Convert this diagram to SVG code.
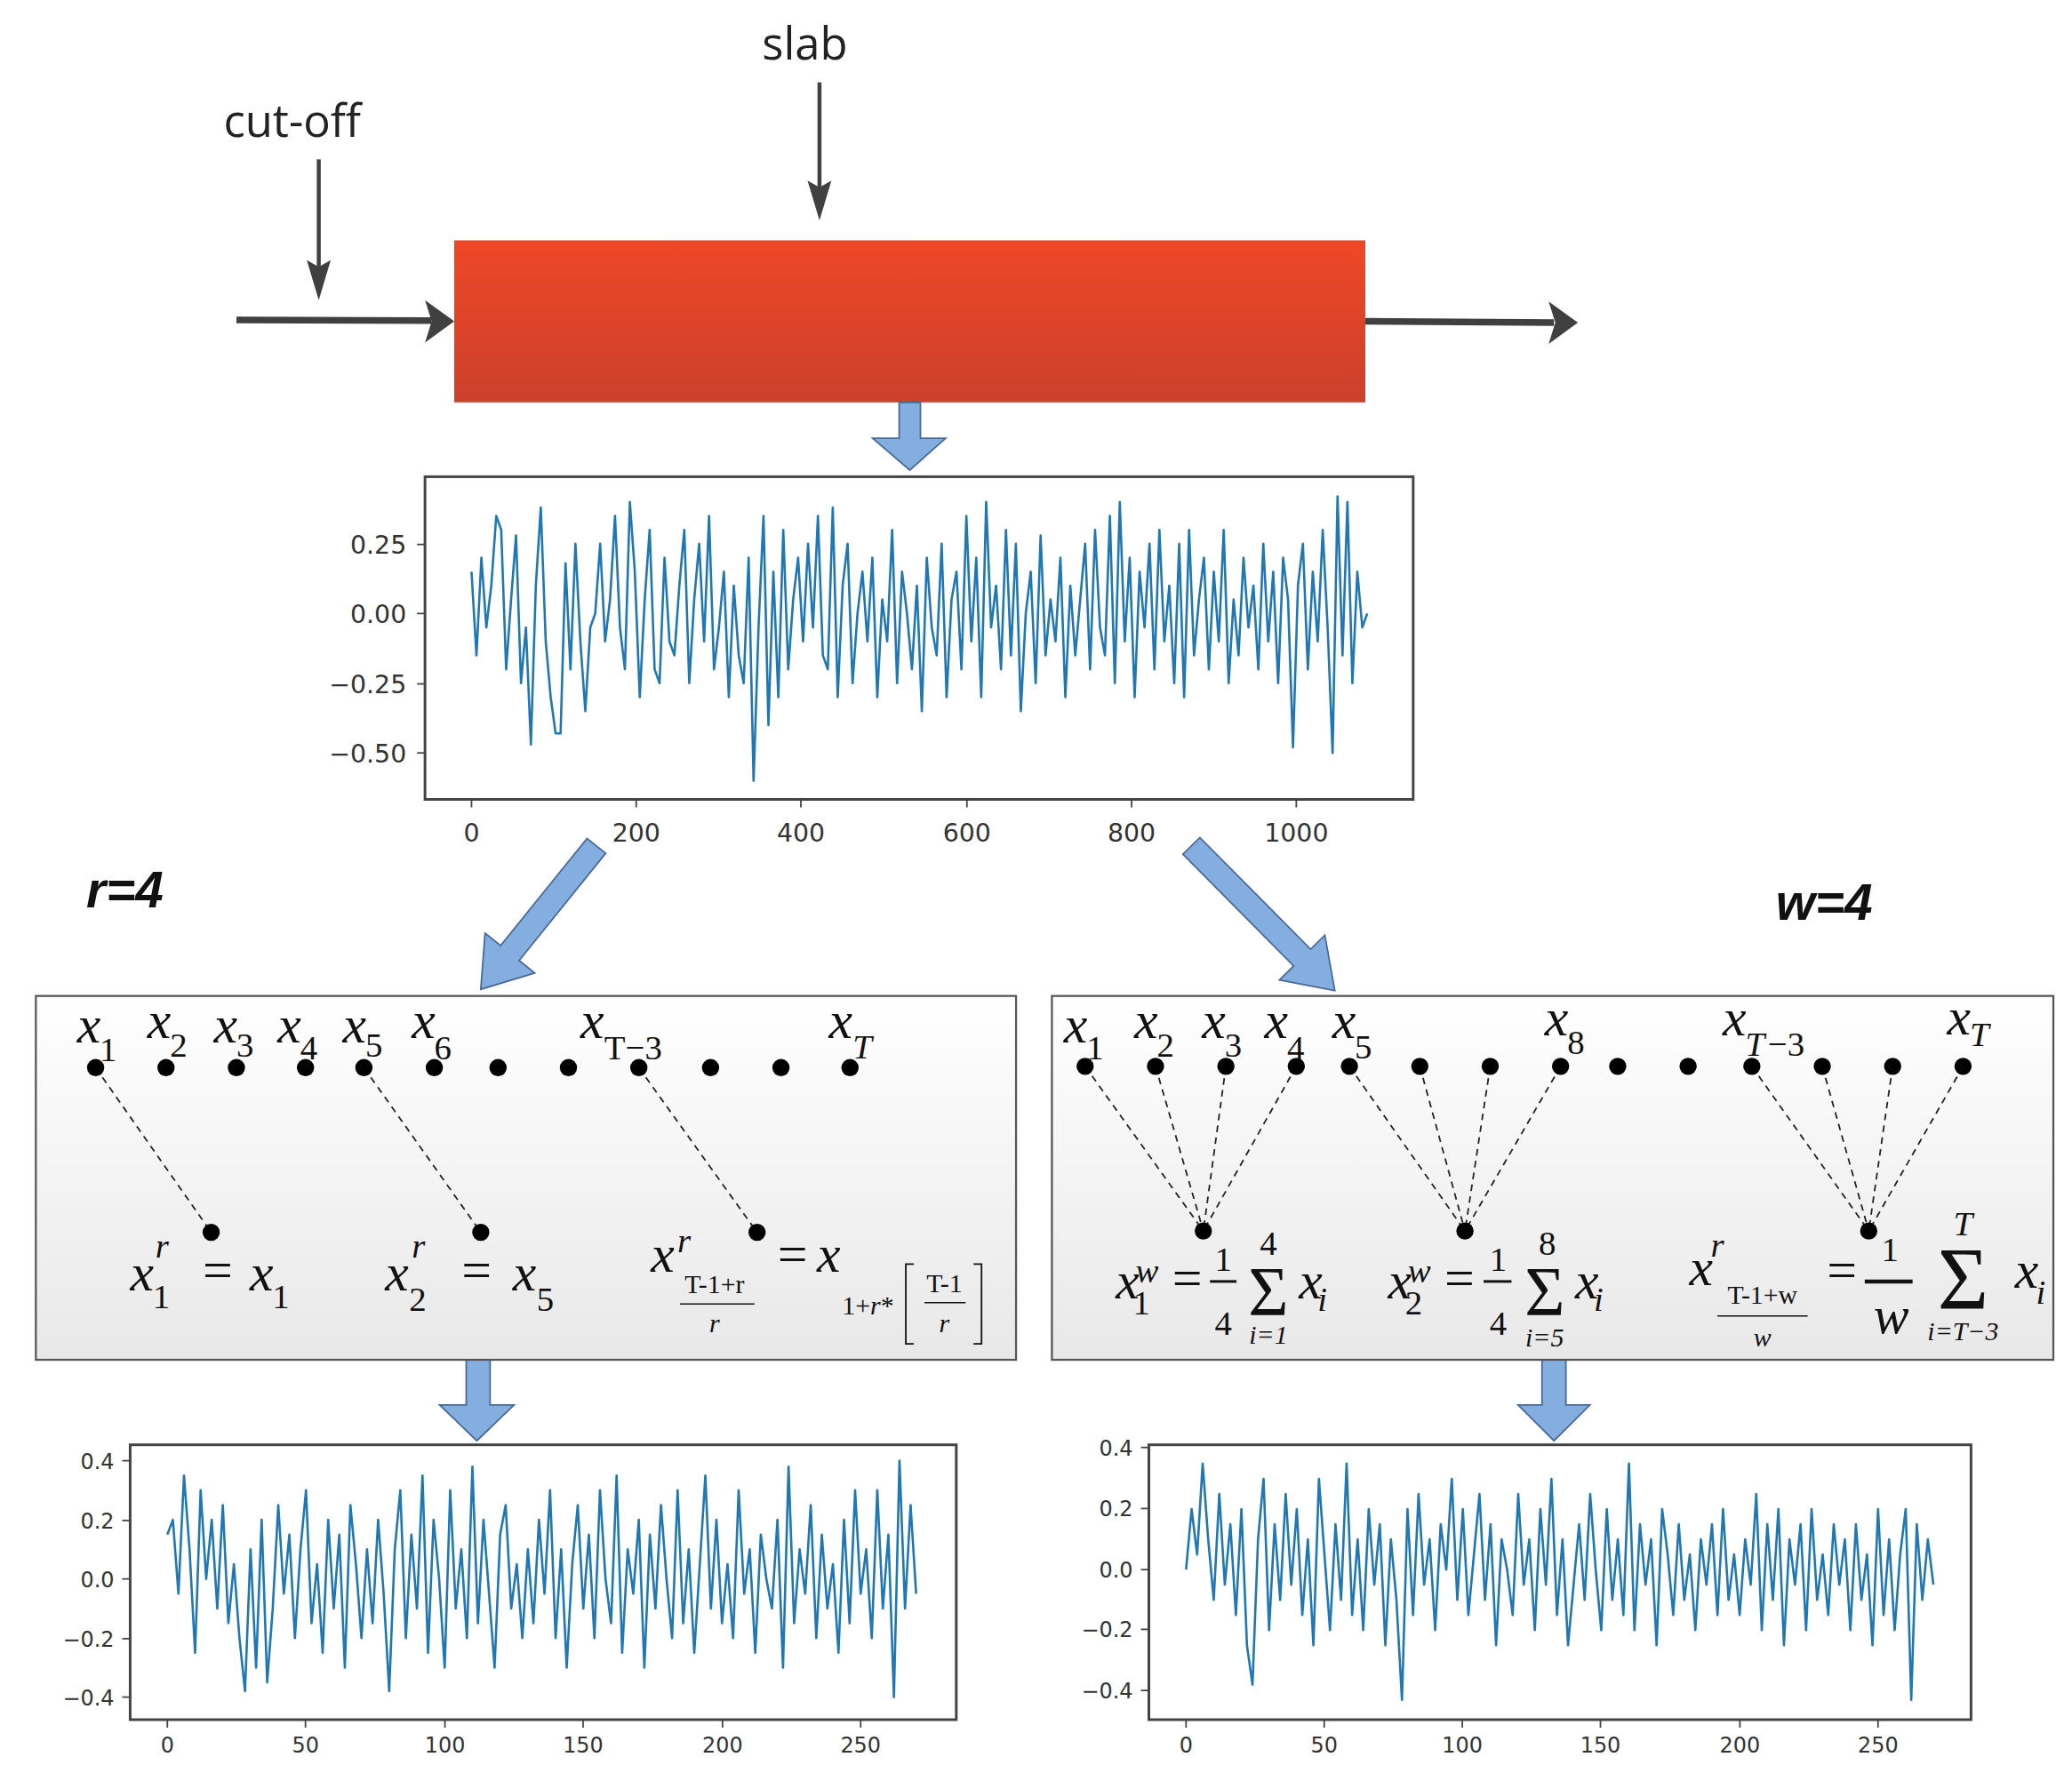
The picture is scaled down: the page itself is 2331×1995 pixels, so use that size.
<svg xmlns="http://www.w3.org/2000/svg" width="2331" height="1995" viewBox="0 0 2331 1995">
<defs>
<linearGradient id="red" x1="0" y1="0" x2="0" y2="1"><stop offset="0" stop-color="#ee4727"/><stop offset="1" stop-color="#cc402c"/></linearGradient>
<linearGradient id="box" x1="0" y1="0" x2="0" y2="1"><stop offset="0" stop-color="#ffffff"/><stop offset="1" stop-color="#e8e8e8"/></linearGradient>
</defs>
<style>
.lbl{font-family:"Open Sans","DejaVu Sans",sans-serif;font-size:34px;fill:#222}
.bi{font-family:"Liberation Sans",Arial,sans-serif;font-size:38px;font-weight:bold;font-style:italic;fill:#111}
.m{font-family:"Liberation Serif","Times New Roman",serif;font-style:italic;font-size:40px;fill:#111}
.s{font-family:"Liberation Serif","Times New Roman",serif;font-size:26px;fill:#111}
.si{font-family:"Liberation Serif","Times New Roman",serif;font-style:italic;font-size:26px;fill:#111}
.f{font-family:"Liberation Serif","Times New Roman",serif;font-size:20px;fill:#111}
.fi{font-family:"Liberation Serif","Times New Roman",serif;font-style:italic;font-size:20px;fill:#111}
.sig{font-family:"Liberation Serif","Times New Roman",serif;fill:#111}
.tk{font-family:"DejaVu Sans",sans-serif;font-size:19px;fill:#333}
.tks{font-family:"DejaVu Sans",sans-serif;font-size:16px;fill:#333}
.blue{fill:#84aedf;stroke:#4a6a96;stroke-width:1.2}
.dark{stroke:#404040;fill:none}
.head{fill:#404040}
.frame{fill:#fff;stroke:#444;stroke-width:2}
.line{fill:none;stroke:#1f77b4;stroke-width:2.6;vector-effect:non-scaling-stroke;stroke-linejoin:round}
.dash{stroke:#222;stroke-width:1.2;stroke-dasharray:5,4}
.dot{fill:#000}
.ax{stroke:#444;stroke-width:1.2}
</style>
<g transform="scale(1.4942)">
<g id="labels">
<text class="lbl" x="220" y="103" text-anchor="middle">cut-off</text>
<text class="lbl" x="606" y="45" text-anchor="middle">slab</text>
<text class="bi" x="65" y="683">r=4</text>
<text class="bi" x="1337" y="693">w=4</text>
</g>
<g id="slab"><rect x="342" y="181" width="686" height="122" fill="url(#red)"/></g>
<g id="connectors">
<line class="dark" x1="240" y1="120" x2="240" y2="205" stroke-width="3"/>
<polygon class="head" points="231,196 240,201 249,196 240,226"/>
<line class="dark" x1="617" y1="62" x2="617" y2="145" stroke-width="3"/>
<polygon class="head" points="608,136 617,141 626,136 617,166"/>
<line class="dark" x1="178" y1="241" x2="325" y2="241.5" stroke-width="5"/>
<polygon class="head" points="320,226 342,242 320,258 325,242"/>
<line class="dark" x1="1028" y1="242" x2="1170" y2="243" stroke-width="5"/>
<polygon class="head" points="1166,227 1188,243 1166,259 1171,243"/>
<polygon class="blue" points="677,303 693,303 693,330 712,330 685,354 657,330 677,330"/>
<polygon class="blue" points="456,642.6 390.9,723.3 402.6,732.7 362,745 365.2,702.7 376.9,712.1 442,631.4"/>
<polygon class="blue" points="890.6,643.3 974,727.4 963.3,738 1005,746 997.5,704.2 986.8,714.8 903.4,630.7"/>
<polygon class="blue" points="351,1024 369,1024 369,1058 387,1058 359,1085 331,1058 351,1058"/>
<polygon class="blue" points="1161,1024 1179,1024 1179,1058 1197,1058 1170,1085 1143,1058 1161,1058"/>
</g>
<g id="chart-top">
<rect class="frame" x="320" y="359" width="744" height="243"/>
<g class="ax"><line x1="314" y1="410" x2="320" y2="410"/><line x1="314" y1="462" x2="320" y2="462"/><line x1="314" y1="515" x2="320" y2="515"/><line x1="314" y1="567" x2="320" y2="567"/>
<line x1="355" y1="602" x2="355" y2="608"/><line x1="479" y1="602" x2="479" y2="608"/><line x1="603" y1="602" x2="603" y2="608"/><line x1="728" y1="602" x2="728" y2="608"/><line x1="852" y1="602" x2="852" y2="608"/><line x1="976" y1="602" x2="976" y2="608"/></g>
<g class="tk" text-anchor="end"><text x="306" y="417">0.25</text><text x="306" y="469">0.00</text><text x="306" y="522">−0.25</text><text x="306" y="574">−0.50</text></g>
<g class="tk" text-anchor="middle"><text x="355" y="634">0</text><text x="479" y="634">200</text><text x="603" y="634">400</text><text x="728" y="634">600</text><text x="852" y="634">800</text><text x="976" y="634">1000</text></g>
<polyline class="line" transform="translate(355,462) scale(3.726,-2.1)" points="0,15 1,-15 2,20 3,-5 4,10 5,35 6,30 7,-20 8,5 9,28 10,-25 11,-5 12,-47 13,10 14,38 15,-10 16,-30 17,-43 18,-43 19,18 20,-20 21,25 22,-10 23,-35 24,-5 25,0 26,25 27,-10 28,5 29,35 30,-5 31,-20 32,40 33,15 34,-30 35,5 36,30 37,-20 38,-25 39,20 40,-10 41,-15 42,10 43,30 44,-25 45,5 46,25 47,-10 48,35 49,-20 50,-5 51,15 52,-30 53,10 54,-15 55,-25 56,20 57,-60 58,-5 59,35 60,-40 61,15 62,-30 63,30 64,-20 65,5 66,20 67,-10 68,25 69,-5 70,35 71,-15 72,-20 73,38 74,-30 75,10 76,25 77,-25 78,0 79,15 80,-10 81,20 82,-30 83,5 84,-10 85,30 86,-25 87,15 88,0 89,-20 90,10 91,-35 92,20 93,-5 94,-15 95,25 96,-30 97,5 98,15 99,-20 100,35 101,-10 102,20 103,-30 104,40 105,-5 106,10 107,-20 108,30 109,-15 110,25 111,-35 112,0 113,15 114,-25 115,28 116,-15 117,5 118,-10 119,20 120,-30 121,10 122,-15 123,5 124,25 125,-20 126,30 127,-5 128,-15 129,35 130,-25 131,40 132,-10 133,20 134,-30 135,15 136,-5 137,25 138,-20 139,30 140,-10 141,10 142,-25 143,25 144,-30 145,30 146,-15 147,5 148,20 149,-20 150,15 151,-10 152,30 153,-25 154,5 155,-15 156,20 157,-5 158,10 159,-20 160,25 161,-10 162,15 163,-25 164,20 165,5 166,-48 167,10 168,25 169,-20 170,15 171,-10 172,30 173,-5 174,-50 175,42 176,-15 177,40 178,-25 179,15 180,-5 181,0"/>
</g>
<g id="box-left">
<rect x="27" y="750" width="738" height="274" fill="url(#box)" stroke="#555" stroke-width="1.5"/>
<g class="dash"><line x1="72" y1="804" x2="159" y2="928"/><line x1="274" y1="804" x2="362" y2="928"/><line x1="481" y1="804" x2="570" y2="928"/></g>
<g class="dot"><circle cx="72" cy="804" r="6.5"/><circle cx="125" cy="804" r="6.5"/><circle cx="178" cy="804" r="6.5"/><circle cx="230" cy="804" r="6.5"/><circle cx="274" cy="804" r="6.5"/><circle cx="327" cy="804" r="6.5"/><circle cx="375" cy="804" r="6.5"/><circle cx="428" cy="804" r="6.5"/><circle cx="481" cy="804" r="6.5"/><circle cx="535" cy="804" r="6.5"/><circle cx="588" cy="804" r="6.5"/><circle cx="640" cy="804" r="6.5"/>
<circle cx="159" cy="928" r="6.5"/><circle cx="362" cy="928" r="6.5"/><circle cx="570" cy="928" r="6.5"/></g>
<text class="m" x="58" y="785">x</text><text class="s" x="75" y="799">1</text>
<text class="m" x="111" y="782">x</text><text class="s" x="128" y="796">2</text>
<text class="m" x="161" y="785">x</text><text class="s" x="178" y="796">3</text>
<text class="m" x="209" y="785">x</text><text class="s" x="226" y="798">4</text>
<text class="m" x="258" y="785">x</text><text class="s" x="275" y="796">5</text>
<text class="m" x="310" y="782">x</text><text class="s" x="327" y="798">6</text>
<text class="m" x="437" y="782">x</text><text class="s" x="455" y="798">T−3</text>
<text class="m" x="624" y="782">x</text><text class="si" x="642" y="797">T</text>
<text class="m" x="98" y="972">x</text><text class="si" x="117" y="947">r</text><text class="s" x="115" y="985">1</text><text class="m" x="150" y="970" font-style="normal">=</text><text class="m" x="188" y="972">x</text><text class="s" x="205" y="985">1</text>
<text class="m" x="290" y="972">x</text><text class="si" x="310" y="947">r</text><text class="s" x="308" y="987">2</text><text class="m" x="345" y="970" font-style="normal">=</text><text class="m" x="386" y="972">x</text><text class="s" x="404" y="987">5</text>
<text class="m" x="490" y="958">x</text><text class="si" x="510" y="943">r</text><text class="f" x="538" y="974" text-anchor="middle">T-1+r</text><line x1="512" y1="982" x2="568" y2="982" stroke="#111" stroke-width="1"/><text class="fi" x="538" y="1003" text-anchor="middle">r</text>
<text class="m" x="583" y="958" font-style="normal">=</text><text class="m" x="615" y="958">x</text>
<text class="f" x="634" y="990" font-size="18">1+<tspan font-style="italic">r</tspan>*</text>
<path d="M688,952 L682,952 L682,1012 L688,1012 M733,952 L739,952 L739,1012 L733,1012" fill="none" stroke="#111" stroke-width="1.2"/>
<text class="f" x="711" y="973" text-anchor="middle">T-1</text><line x1="696" y1="981" x2="727" y2="981" stroke="#111" stroke-width="1"/><text class="fi" x="711" y="1003" text-anchor="middle">r</text>
</g>
<g id="box-right">
<rect x="792" y="750" width="754" height="274" fill="url(#box)" stroke="#555" stroke-width="1.5"/>
<g class="dash"><line x1="817" y1="803" x2="906" y2="927"/><line x1="870" y1="803" x2="906" y2="927"/><line x1="923" y1="803" x2="906" y2="927"/><line x1="976" y1="803" x2="906" y2="927"/>
<line x1="1016" y1="803" x2="1103" y2="927"/><line x1="1069" y1="803" x2="1103" y2="927"/><line x1="1122" y1="803" x2="1103" y2="927"/><line x1="1175" y1="803" x2="1103" y2="927"/>
<line x1="1319" y1="803" x2="1407" y2="927"/><line x1="1372" y1="803" x2="1407" y2="927"/><line x1="1425" y1="803" x2="1407" y2="927"/><line x1="1478" y1="803" x2="1407" y2="927"/></g>
<g class="dot"><circle cx="817" cy="803" r="6.5"/><circle cx="870" cy="803" r="6.5"/><circle cx="923" cy="803" r="6.5"/><circle cx="976" cy="803" r="6.5"/><circle cx="1016" cy="803" r="6.5"/><circle cx="1069" cy="803" r="6.5"/><circle cx="1122" cy="803" r="6.5"/><circle cx="1175" cy="803" r="6.5"/><circle cx="1218" cy="803" r="6.5"/><circle cx="1271" cy="803" r="6.5"/><circle cx="1319" cy="803" r="6.5"/><circle cx="1372" cy="803" r="6.5"/><circle cx="1425" cy="803" r="6.5"/><circle cx="1478" cy="803" r="6.5"/>
<circle cx="906" cy="927" r="6.5"/><circle cx="1103" cy="927" r="6.5"/><circle cx="1407" cy="927" r="6.5"/></g>
<text class="m" x="801" y="785">x</text><text class="s" x="818" y="798">1</text>
<text class="m" x="854" y="782">x</text><text class="s" x="871" y="796">2</text>
<text class="m" x="905" y="782">x</text><text class="s" x="922" y="796">3</text>
<text class="m" x="952" y="782">x</text><text class="s" x="969" y="798">4</text>
<text class="m" x="1003" y="782">x</text><text class="s" x="1020" y="797">5</text>
<text class="m" x="1163" y="780">x</text><text class="s" x="1180" y="794">8</text>
<text class="m" x="1297" y="780">x</text><text class="si" x="1314" y="795">T</text><text class="s" x="1331" y="795">−3</text>
<text class="m" x="1466" y="779">x</text><text class="si" x="1483" y="788">T</text>
<text class="m" x="840" y="978" font-size="30">x</text><text class="si" x="855" y="966" font-size="15">w</text><text class="s" x="853" y="990" font-size="18">1</text>
<text class="m" x="880" y="976" font-style="normal" font-size="30">=</text>
<text class="s" x="921" y="957" text-anchor="middle" font-size="32">1</text><line x1="911" y1="965" x2="931" y2="965" stroke="#111" stroke-width="2"/><text class="s" x="921" y="1005" text-anchor="middle" font-size="32">4</text>
<text class="sig" x="955" y="990" text-anchor="middle" font-size="52">Σ</text><text class="s" x="955" y="945" text-anchor="middle" font-size="16">4</text><text class="fi" x="955" y="1012" text-anchor="middle" font-size="16">i=1</text>
<text class="m" x="978" y="978" font-size="30">x</text><text class="si" x="992" y="987" font-size="16">i</text>
<text class="m" x="1045" y="978" font-size="30">x</text><text class="si" x="1060" y="966" font-size="15">w</text><text class="s" x="1058" y="990" font-size="18">2</text>
<text class="m" x="1085" y="976" font-style="normal" font-size="30">=</text>
<text class="s" x="1128" y="957" text-anchor="middle" font-size="32">1</text><line x1="1117" y1="965" x2="1138" y2="965" stroke="#111" stroke-width="2"/><text class="s" x="1128" y="1005" text-anchor="middle" font-size="32">4</text>
<text class="sig" x="1163" y="990" text-anchor="middle" font-size="52">Σ</text><text class="s" x="1165" y="945" text-anchor="middle" font-size="16">8</text><text class="fi" x="1163" y="1014" text-anchor="middle" font-size="16">i=5</text>
<text class="m" x="1186" y="978" font-size="30">x</text><text class="si" x="1200" y="987" font-size="16">i</text>
<text class="m" x="1272" y="968" font-size="32">x</text><text class="si" x="1288" y="946" font-size="16">r</text><text class="f" x="1327" y="982" text-anchor="middle" font-size="18">T-1+w</text><line x1="1293" y1="991" x2="1361" y2="991" stroke="#111" stroke-width="1"/><text class="fi" x="1327" y="1014" text-anchor="middle" font-size="18">w</text>
<text class="m" x="1373" y="970" font-style="normal" font-size="34">=</text>
<text class="s" x="1423" y="950" text-anchor="middle" font-size="40">1</text><line x1="1404" y1="965" x2="1440" y2="965" stroke="#111" stroke-width="3"/><text class="m" x="1424" y="1004" text-anchor="middle" font-size="36">w</text>
<text class="sig" x="1478" y="985" text-anchor="middle" font-size="66">Σ</text><text class="si" x="1478" y="930" text-anchor="middle" font-size="18">T</text><text class="fi" x="1478" y="1009" text-anchor="middle" font-size="20">i=T−3</text>
<text class="m" x="1517" y="970" font-size="34">x</text><text class="si" x="1533" y="982" font-size="18">i</text>
</g>
<g id="chart-left">
<rect class="frame" x="98" y="1088" width="622" height="207"/>
<g class="ax"><line x1="92" y1="1100" x2="98" y2="1100"/><line x1="92" y1="1145" x2="98" y2="1145"/><line x1="92" y1="1189" x2="98" y2="1189"/><line x1="92" y1="1234" x2="98" y2="1234"/><line x1="92" y1="1278" x2="98" y2="1278"/>
<line x1="126" y1="1295" x2="126" y2="1301"/><line x1="230" y1="1295" x2="230" y2="1301"/><line x1="335" y1="1295" x2="335" y2="1301"/><line x1="439" y1="1295" x2="439" y2="1301"/><line x1="544" y1="1295" x2="544" y2="1301"/><line x1="648" y1="1295" x2="648" y2="1301"/></g>
<g class="tks" text-anchor="end"><text x="86" y="1106">0.4</text><text x="86" y="1151">0.2</text><text x="86" y="1195">0.0</text><text x="86" y="1240">−0.2</text><text x="86" y="1284">−0.4</text></g>
<g class="tks" text-anchor="middle"><text x="126" y="1320">0</text><text x="230" y="1320">50</text><text x="335" y="1320">100</text><text x="439" y="1320">150</text><text x="544" y="1320">200</text><text x="648" y="1320">250</text></g>
<polyline class="line" transform="translate(126,1189) scale(4.176,-2.225)" points="0,15 1,20 2,-5 3,35 4,10 5,-25 6,30 7,0 8,20 9,-10 10,25 11,-15 12,5 13,-20 14,-38 15,10 16,-30 17,20 18,-35 19,-10 20,25 21,-5 22,15 23,-20 24,10 25,30 26,-15 27,5 28,-25 29,20 30,-10 31,15 32,-30 33,25 34,5 35,-20 36,10 37,-15 38,20 39,-5 40,-38 41,10 42,30 43,-20 44,15 45,-10 46,35 47,-25 48,20 49,0 50,-30 51,30 52,-10 53,10 54,-20 55,38 56,-15 57,20 58,-5 59,-30 60,15 61,25 62,-10 63,5 64,-20 65,10 66,-15 67,20 68,-5 69,30 70,-20 71,10 72,-30 73,5 74,25 75,-10 76,15 77,-20 78,30 79,0 80,-15 81,35 82,-25 83,10 84,-5 85,20 86,-30 87,15 88,-10 89,25 90,0 91,-20 92,30 93,-15 94,10 95,-25 96,5 97,35 98,-10 99,20 100,-15 101,5 102,-20 103,30 104,-5 105,10 106,-25 107,15 108,0 109,-10 110,20 111,-30 112,38 113,-15 114,10 115,-5 116,25 117,-20 118,15 119,-10 120,5 121,-25 122,20 123,-15 124,30 125,-5 126,10 127,-20 128,30 129,-10 130,15 131,-40 132,40 133,-10 134,25 135,-5"/>
</g>
<g id="chart-right">
<rect class="frame" x="865" y="1088" width="619" height="207"/>
<g class="ax"><line x1="859" y1="1090" x2="865" y2="1090"/><line x1="859" y1="1136" x2="865" y2="1136"/><line x1="859" y1="1182" x2="865" y2="1182"/><line x1="859" y1="1227" x2="865" y2="1227"/><line x1="859" y1="1273" x2="865" y2="1273"/>
<line x1="893" y1="1295" x2="893" y2="1301"/><line x1="997" y1="1295" x2="997" y2="1301"/><line x1="1101" y1="1295" x2="1101" y2="1301"/><line x1="1205" y1="1295" x2="1205" y2="1301"/><line x1="1310" y1="1295" x2="1310" y2="1301"/><line x1="1414" y1="1295" x2="1414" y2="1301"/></g>
<g class="tks" text-anchor="end"><text x="853" y="1096">0.4</text><text x="853" y="1142">0.2</text><text x="853" y="1188">0.0</text><text x="853" y="1233">−0.2</text><text x="853" y="1279">−0.4</text></g>
<g class="tks" text-anchor="middle"><text x="893" y="1320">0</text><text x="997" y="1320">50</text><text x="1101" y="1320">100</text><text x="1205" y="1320">150</text><text x="1310" y="1320">200</text><text x="1414" y="1320">250</text></g>
<polyline class="line" transform="translate(893,1182) scale(4.168,-2.28)" points="0,0 1,20 2,5 3,35 4,10 5,-10 6,25 7,-5 8,15 9,-15 10,20 11,-25 12,-38 13,10 14,30 15,-20 16,15 17,-10 18,25 19,-5 20,20 21,-15 22,10 23,-25 24,30 25,5 26,-20 27,15 28,-10 29,35 30,-15 31,10 32,-20 33,20 34,-5 35,15 36,-25 37,10 38,-10 39,-43 40,20 41,-15 42,25 43,-5 44,10 45,-20 46,15 47,0 48,30 49,-10 50,20 51,-15 52,5 53,25 54,-10 55,15 56,-25 57,10 58,0 59,-15 60,25 61,-5 62,10 63,-20 64,20 65,-5 66,30 67,-15 68,10 69,-25 70,-5 71,15 72,-10 73,25 74,0 75,-20 76,20 77,-10 78,10 79,-15 80,35 81,-20 82,15 83,-5 84,10 85,-25 86,20 87,5 88,-15 89,15 90,-10 91,5 92,-20 93,10 94,-5 95,15 96,-15 97,20 98,-10 99,5 100,-15 101,10 102,-5 103,25 104,-20 105,15 106,-10 107,20 108,-25 109,10 110,-5 111,15 112,-20 113,20 114,-10 115,5 116,-15 117,15 118,-5 119,10 120,-20 121,15 122,-10 123,5 124,-25 125,20 126,-15 127,10 128,-20 129,5 130,20 131,-43 132,15 133,-10 134,10 135,-5"/>
</g>
</g>
</svg>
